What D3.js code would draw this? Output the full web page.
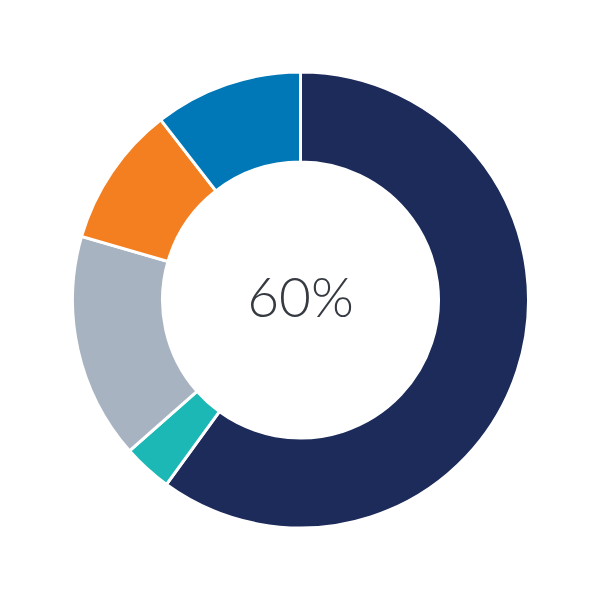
<!DOCTYPE html>
<html>
<head>
<meta charset="utf-8">
<script src="https://cdn.jsdelivr.net/npm/d3@7"></script>
<style>
html,body{margin:0;padding:0;background:#fff;}
</style>
</head>
<body>
<svg id="chart" width="600" height="600"></svg>
<script>
const categories = ["A", "B", "C", "D", "E"];
const values = [60, 3.5, 16, 10, 10.5];
const colors = ["#1c2b5a", "#1cb8b6", "#a8b3c2", "#f47f20", "#0077b6"];
const centerLabel = "60%";

const svg = d3.select("#chart");
const g = svg.append("g").attr("transform", "translate(300.5,300)");
const pie = d3.pie().sort(null).value(d => d.v);
const arc = d3.arc().innerRadius(138).outerRadius(228);
const data = categories.map((c, i) => ({c, v: values[i]}));
const color = d3.scaleOrdinal().domain(categories).range(colors);

g.selectAll("path").data(pie(data)).join("path")
  .attr("d", arc)
  .attr("fill", d => color(d.data.c))
  .attr("stroke", "#fff")
  .attr("stroke-width", 3)
  .attr("stroke-linejoin", "miter");

g.append("text")
  .attr("text-anchor", "middle")
  .attr("y", -3)
  .attr("dy", "0.36em")
  .attr("font-family", "Lato, sans-serif")
  .attr("font-weight", 300)
  .attr("font-size", 55)
  .attr("fill", "#363b42")
  .text(centerLabel);
</script>
</body>
</html>
